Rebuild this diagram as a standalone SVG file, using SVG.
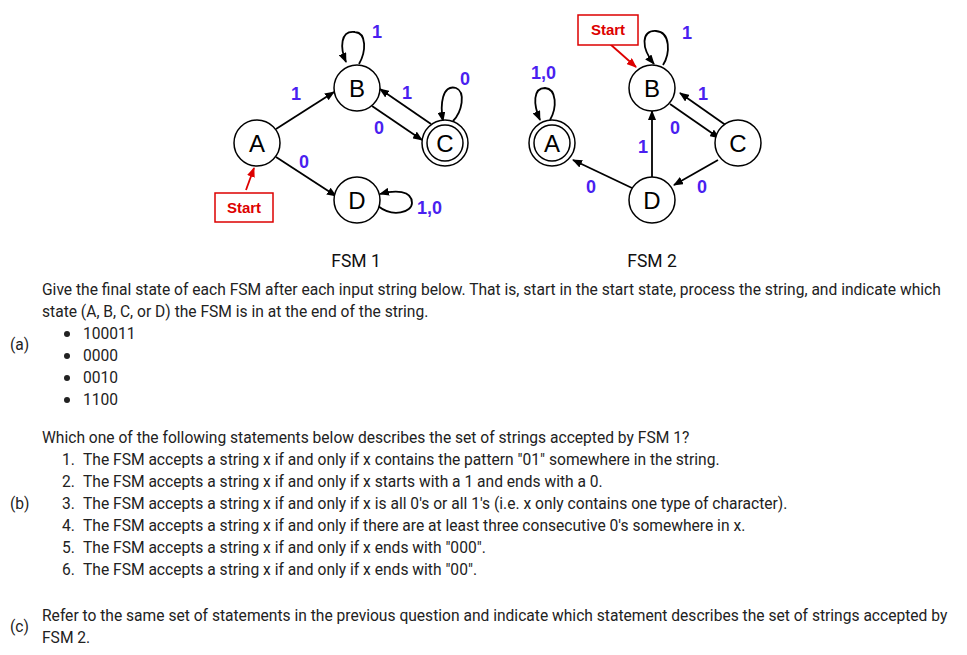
<svg xmlns="http://www.w3.org/2000/svg" width="967" height="655" viewBox="0 0 967 655">
<style>
.n{fill:#fff;stroke:#000;stroke-width:1.5}
.nl{font-family:"Liberation Sans",Arial,sans-serif;font-size:24px;text-anchor:middle}
.e{fill:none;stroke:#000;stroke-width:1.8;marker-end:url(#ah)}
.s{fill:none;stroke:#d00;stroke-width:1.8;marker-end:url(#ahr)}
.lb{font-family:"Liberation Sans",Arial,sans-serif;font-size:18px;font-weight:bold;fill:#4a1ff0}
.sb{fill:#fff;stroke:#d00;stroke-width:1.5}
.st{font-family:"Liberation Sans",Arial,sans-serif;font-size:15px;font-weight:bold;fill:#d00;text-anchor:middle}
.t{font-family:Roboto,"Liberation Sans",sans-serif;font-size:15.6px;fill:#222}
.cap{font-family:Roboto,"Liberation Sans",sans-serif;font-size:17.5px;fill:#111;text-anchor:middle}
</style>
<defs>
<marker id="ah" markerWidth="10" markerHeight="8" refX="9" refY="4" orient="auto" markerUnits="userSpaceOnUse"><path d="M0,0L10,4L0,8z"/></marker>
<marker id="ahr" markerWidth="10" markerHeight="8" refX="9" refY="4" orient="auto" markerUnits="userSpaceOnUse"><path d="M0,0L10,4L0,8z" fill="#d00"/></marker>
</defs>
<rect width="967" height="655" fill="#fff"/>
<g id="connectors">
<path class="e" d="M276,129L334,92"/>
<path class="e" d="M276,157L336,196"/>
<path class="e" d="M372,106L422,140"/>
<path class="e" d="M431,124L380,89"/>
<path class="e" d="M359,64C366,52 367,33 355,32C340,30 340,48 346,62"/>
<path class="e" d="M453,121C462,112 466,92 456,88C442,84 440,105 443,121"/>
<path class="e" d="M378,206C393,218 412,212 412,203C412,190 395,190 380,194"/>
<path class="s" d="M246,190L254,168"/>
<path class="e" d="M670,104L719,138"/>
<path class="e" d="M727,126L680,93"/>
<path class="e" d="M718,160L674,185"/>
<path class="e" d="M652,177L652,111"/>
<path class="e" d="M632,188L573,160"/>
<path class="e" d="M663,65C670,54 671,32 656,31C641,30 641,48 654,64"/>
<path class="e" d="M550,120C557,108 557,89 545,88C533,88 533,104 540,120"/>
<path class="s" d="M610,44L636,67"/>
</g>
<g id="A1"><circle class="n" cx="257" cy="143" r="23"/><text class="nl" x="257" y="152">A</text></g>
<g id="B1"><circle class="n" cx="357" cy="88" r="23"/><text class="nl" x="357" y="97">B</text></g>
<g id="C1"><circle class="n" cx="445" cy="143" r="23"/><circle class="n" cx="445" cy="143" r="18"/><text class="nl" x="445" y="152">C</text></g>
<g id="D1"><circle class="n" cx="357" cy="200" r="23"/><text class="nl" x="357" y="209">D</text></g>
<g id="start1"><rect class="sb" x="215" y="193" width="58" height="29"/><text class="st" x="244" y="213">Start</text></g>
<g id="A2"><circle class="n" cx="552" cy="143" r="23"/><circle class="n" cx="552" cy="143" r="18"/><text class="nl" x="552" y="152">A</text></g>
<g id="B2"><circle class="n" cx="652" cy="88" r="23"/><text class="nl" x="652" y="97">B</text></g>
<g id="C2"><circle class="n" cx="738" cy="143" r="23"/><text class="nl" x="738" y="152">C</text></g>
<g id="D2"><circle class="n" cx="652" cy="200" r="23"/><text class="nl" x="652" y="209">D</text></g>
<g id="start2"><rect class="sb" x="578" y="15" width="60" height="30"/><text class="st" x="608" y="35">Start</text></g>
<g id="labels">
<text class="lb" x="372" y="38">1</text>
<text class="lb" x="291" y="100">1</text>
<text class="lb" x="402" y="99">1</text>
<text class="lb" x="374" y="134">0</text>
<text class="lb" x="460" y="85">0</text>
<text class="lb" x="299" y="168">0</text>
<text class="lb" x="417" y="214">1,0</text>
<text class="lb" x="682" y="39">1</text>
<text class="lb" x="531" y="79">1,0</text>
<text class="lb" x="698" y="100">1</text>
<text class="lb" x="670" y="134">0</text>
<text class="lb" x="638" y="153">1</text>
<text class="lb" x="586" y="193">0</text>
<text class="lb" x="697" y="193">0</text>
</g>
<text class="cap" x="356" y="267">FSM 1</text>
<text class="cap" x="652" y="267">FSM 2</text>
<g class="t">
<text x="42" y="295">Give the final state of each FSM after each input string below. That is, start in the start state, process the string, and indicate which</text>
<text x="42" y="317">state (A, B, C, or D) the FSM is in at the end of the string.</text>
<text x="10" y="350">(a)</text>
<circle cx="67" cy="334" r="3" fill="#222"/><text x="83" y="339">100011</text>
<circle cx="67" cy="356" r="3" fill="#222"/><text x="83" y="361">0000</text>
<circle cx="67" cy="378" r="3" fill="#222"/><text x="83" y="383">0010</text>
<circle cx="67" cy="400" r="3" fill="#222"/><text x="83" y="405">1100</text>
<text x="42" y="443">Which one of the following statements below describes the set of strings accepted by FSM 1?</text>
<text x="62" y="465">1.</text><text x="83" y="465">The FSM accepts a string x if and only if x contains the pattern "01" somewhere in the string.</text>
<text x="62" y="487">2.</text><text x="83" y="487">The FSM accepts a string x if and only if x starts with a 1 and ends with a 0.</text>
<text x="10" y="509">(b)</text>
<text x="62" y="509">3.</text><text x="83" y="509">The FSM accepts a string x if and only if x is all 0's or all 1's (i.e. x only contains one type of character).</text>
<text x="62" y="531">4.</text><text x="83" y="531">The FSM accepts a string x if and only if there are at least three consecutive 0's somewhere in x.</text>
<text x="62" y="553">5.</text><text x="83" y="553">The FSM accepts a string x if and only if x ends with "000".</text>
<text x="62" y="575">6.</text><text x="83" y="575">The FSM accepts a string x if and only if x ends with "00".</text>
<text x="42" y="621">Refer to the same set of statements in the previous question and indicate which statement describes the set of strings accepted by</text>
<text x="10" y="632">(c)</text>
<text x="42" y="643">FSM 2.</text>
</g>
</svg>
